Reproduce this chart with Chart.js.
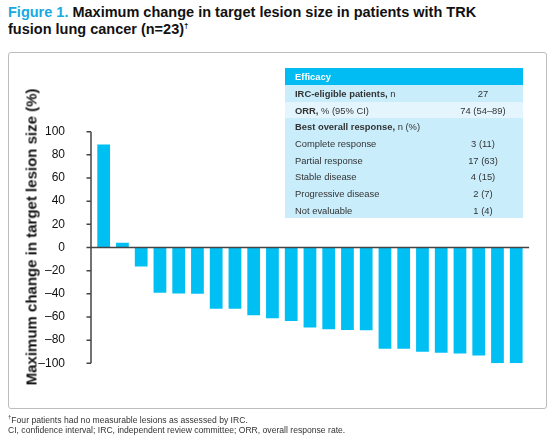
<!DOCTYPE html>
<html>
<meta charset="utf-8">
<head>
    <title>Figure 1</title>
    <script src="https://cdn.jsdelivr.net/npm/chart.js@4.4.1/dist/chart.umd.min.js"></script>
    <style>
    body{
        margin: 0;
        background: #fff;
        font-family: "Liberation Sans", Arial, sans-serif;
    }
    .page{
        position: relative;
        width: 554px;
        height: 441px;
        overflow: hidden;
    }
    .titulo{
        position: absolute;
        left: 8px;
        top: 3.5px;
        font-size: 14.5px;
        line-height: 17.5px;
        font-weight: bold;
        color: #111;
    }
    .titulo span{ color: #17aae2; }
    .caixa{
        position: absolute;
        left: 8px;
        top: 52px;
        width: 537px;
        height: 355px;
        border: 1.5px solid #bdbdbd;
        border-radius: 3px;
    }
    #grafico{
        position: absolute;
        left: 0;
        top: 0;
    }
    .eixoY{
        position: absolute;
        left: 30.5px;
        top: 237px;
        transform: translate(-50%, -50%) rotate(-90deg);
        white-space: nowrap;
        font-size: 15px;
        font-weight: bold;
        color: #111;
    }
    .tabela{
        position: absolute;
        left: 285px;
        top: 68.3px;
        width: 238px;
        border-collapse: collapse;
        font-size: 9.4px;
        color: #333;
    }
    .tabela td{
        height: 16.7px;
        padding: 0 0 0 10px;
        background: #c9edfb;
    }
    .tabela td.v{ text-align: center; padding: 0 0 0 0; width: 80px; }
    .tabela tr.cab td{ background: #00bcf2; color: #fff; font-weight: bold; }
    .tabela tr.claro td{ background: #e4f5fd; }
    .rodape{
        position: absolute;
        left: 8px;
        top: 415px;
        font-size: 8.6px;
        line-height: 10px;
        color: #333;
    }
    </style>
</head>

<body>
<div class="page">
    <div class="titulo"><span>Figure 1.</span> Maximum change in target lesion size in patients with TRK<br>fusion lung cancer (n=23)<sup style="font-size:8px;line-height:0">†</sup></div>
    <div class="caixa"></div>
    <canvas id="grafico" width="554" height="441"></canvas>
    <div class="eixoY">Maximum change in target lesion size (%)</div>

    <!-- tabela de eficacia -->
    <table class="tabela">
        <tr class="cab"><td colspan="2">Efficacy</td></tr>
        <tr><td><b>IRC-eligible patients,</b> n</td><td class="v">27</td></tr>
        <tr class="claro"><td><b>ORR,</b> % (95% CI)</td><td class="v">74 (54–89)</td></tr>
        <tr><td><b>Best overall response,</b> n (%)</td><td class="v"></td></tr>
        <tr><td>Complete response</td><td class="v">3 (11)</td></tr>
        <tr><td>Partial response</td><td class="v">17 (63)</td></tr>
        <tr><td>Stable disease</td><td class="v">4 (15)</td></tr>
        <tr><td>Progressive disease</td><td class="v">2 (7)</td></tr>
        <tr><td>Not evaluable</td><td class="v">1 (4)</td></tr>
    </table>

    <div class="rodape">
        <sup style="font-size:6px;line-height:0">†</sup>Four patients had no measurable lesions as assessed by IRC.<br>
        CI, confidence interval; IRC, independent review committee; ORR, overall response rate.
    </div>
</div>

<script>
    // pacientes (n=23), um por barra
    var pacientes = ["P1","P2","P3","P4","P5","P6","P7","P8","P9","P10","P11","P12",
                     "P13","P14","P15","P16","P17","P18","P19","P20","P21","P22","P23"];
    // variacao maxima (%)
    var variacao = [89, 4, -16.5, -39, -39.8, -40, -53, -53, -58.4, -61, -63.5, -69,
                    -70.7, -71.2, -71.5, -87.4, -87.4, -90, -90.9, -91.5, -93.2, -100, -100];
    var ticksY = [100, 80, 60, 40, 20, 0, -20, -40, -60, -80, -100];

    // eixo y, marcas e linha do zero desenhados a mao
    Chart.register({
        id: 'eixos',
        afterDatasetsDraw: function(chart) {
            var ctx = chart.ctx;
            var y = chart.scales.y;
            var area = chart.chartArea;
            var x0 = area.left - 3.3;
            ctx.save();
            ctx.strokeStyle = '#444';
            ctx.lineWidth = 1.5;
            ctx.beginPath();
            ctx.moveTo(x0, y.getPixelForValue(100));
            ctx.lineTo(x0, y.getPixelForValue(-100));
            ticksY.forEach(function(t) {
                var py = y.getPixelForValue(t);
                ctx.moveTo(x0 - 4.5, py);
                ctx.lineTo(x0, py);
            });
            ctx.stroke();
            ctx.beginPath();
            ctx.moveTo(x0, y.getPixelForValue(0));
            ctx.lineTo(area.right + 3.5, y.getPixelForValue(0));
            ctx.stroke();
            ctx.restore();
        }
    });

    window.onload = function() {
        var ctx = document.getElementById("grafico").getContext("2d");
        window.myBar = new Chart(ctx, {
            type: 'bar',
            data: {
                labels: pacientes,
                datasets: [{
                    data: variacao,
                    backgroundColor: '#00bff3',
                    barPercentage: 0.68,
                    categoryPercentage: 1
                }]
            },
            options: {
                responsive: false,
                animation: false,
                layout: {
                    padding: { top: 131.7, bottom: 77.7, right: 28.4, left: 0 }
                },
                plugins: {
                    legend: { display: false },
                    tooltip: { enabled: false }
                },
                scales: {
                    x: {
                        display: false
                    },
                    y: {
                        min: -100,
                        max: 100,
                        afterFit: function(scale) { scale.width = 94.3; },
                        afterBuildTicks: function(scale) {
                            scale.ticks = ticksY.map(function(v) { return { value: v }; });
                        },
                        grid: { display: false },
                        border: { display: false },
                        ticks: {
                            padding: 21.3,
                            color: '#111',
                            font: { family: 'Liberation Sans', size: 12 },
                            callback: function(v) { return String(v).replace('-', '\u2013'); }
                        }
                    }
                }
            }
        });
    };
</script>
</body>
</html>
